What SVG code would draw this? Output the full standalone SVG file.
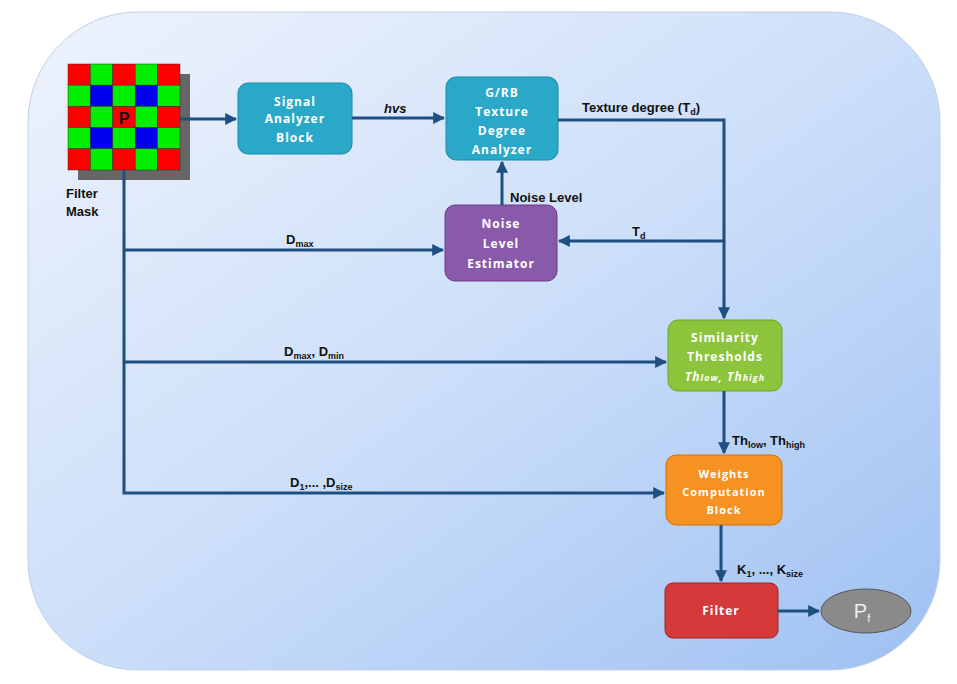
<svg xmlns="http://www.w3.org/2000/svg" width="957" height="684" viewBox="0 0 957 684">
<defs>
<linearGradient id="bg" x1="0" y1="0" x2="1" y2="1"><stop offset="0" stop-color="#eef3fc"/><stop offset="0.5" stop-color="#cddff9"/><stop offset="1" stop-color="#9ec0f2"/></linearGradient>
<marker id="ar" viewBox="0 0 10 10" refX="9" refY="5" markerWidth="4" markerHeight="4" orient="auto"><path d="M0,0L10,5L0,10z" fill="#1f4e80"/></marker>
</defs>
<style>
.c{stroke:#1f4e80;stroke-width:3;fill:none}
.t{font-family:"Liberation Sans",Arial,sans-serif;font-size:13px;font-weight:bold;fill:#111}
.w{font-family:"Open Sans","Liberation Sans",sans-serif;font-size:12px;font-weight:bold;fill:#fff;text-anchor:middle;letter-spacing:1px}
.s{font-size:9px}
</style>
<rect x="28" y="12" width="912" height="658" rx="110" fill="url(#bg)" stroke="#c0d0e8"/>
<g id="mask">
<rect x="78" y="74" width="112" height="106" fill="#666"/>
<g stroke="#333" stroke-width="0.5">
<rect x="68" y="64" width="22.4" height="21.2" fill="#f00"/><rect x="90.4" y="64" width="22.4" height="21.2" fill="#0e0"/><rect x="112.8" y="64" width="22.4" height="21.2" fill="#f00"/><rect x="135.2" y="64" width="22.4" height="21.2" fill="#0e0"/><rect x="157.6" y="64" width="22.4" height="21.2" fill="#f00"/>
<rect x="68" y="85.2" width="22.4" height="21.2" fill="#0e0"/><rect x="90.4" y="85.2" width="22.4" height="21.2" fill="#00e"/><rect x="112.8" y="85.2" width="22.4" height="21.2" fill="#0e0"/><rect x="135.2" y="85.2" width="22.4" height="21.2" fill="#00e"/><rect x="157.6" y="85.2" width="22.4" height="21.2" fill="#0e0"/>
<rect x="68" y="106.4" width="22.4" height="21.2" fill="#f00"/><rect x="90.4" y="106.4" width="22.4" height="21.2" fill="#0e0"/><rect x="112.8" y="106.4" width="22.4" height="21.2" fill="#f00"/><rect x="135.2" y="106.4" width="22.4" height="21.2" fill="#0e0"/><rect x="157.6" y="106.4" width="22.4" height="21.2" fill="#f00"/>
<rect x="68" y="127.6" width="22.4" height="21.2" fill="#0e0"/><rect x="90.4" y="127.6" width="22.4" height="21.2" fill="#00e"/><rect x="112.8" y="127.6" width="22.4" height="21.2" fill="#0e0"/><rect x="135.2" y="127.6" width="22.4" height="21.2" fill="#00e"/><rect x="157.6" y="127.6" width="22.4" height="21.2" fill="#0e0"/>
<rect x="68" y="148.8" width="22.4" height="21.2" fill="#f00"/><rect x="90.4" y="148.8" width="22.4" height="21.2" fill="#0e0"/><rect x="112.8" y="148.8" width="22.4" height="21.2" fill="#f00"/><rect x="135.2" y="148.8" width="22.4" height="21.2" fill="#0e0"/><rect x="157.6" y="148.8" width="22.4" height="21.2" fill="#f00"/>
</g>
<text x="124" y="124" class="t" font-size="16" text-anchor="middle" style="font-size:16px">P</text>
<text x="66" y="198" class="t">Filter</text><text x="66" y="216" class="t">Mask</text>
</g>
<g id="signal"><rect x="238" y="83" width="114" height="71" rx="10" fill="#2aa8c8" stroke="#1a8aa8"/>
<text class="w" x="295" y="106">Signal</text><text class="w" x="295" y="123">Analyzer</text><text class="w" x="295" y="142">Block</text></g>
<g id="grb"><rect x="446" y="77" width="112" height="83" rx="10" fill="#2aa8c8" stroke="#1a8aa8"/>
<text class="w" x="502" y="97">G/RB</text><text class="w" x="502" y="116">Texture</text><text class="w" x="502" y="135">Degree</text><text class="w" x="502" y="154">Analyzer</text></g>
<g id="noise"><rect x="445" y="205" width="112" height="76" rx="10" fill="#8a5aaa" stroke="#6a3a8a"/>
<text class="w" x="501" y="228">Noise</text><text class="w" x="501" y="248">Level</text><text class="w" x="501" y="268">Estimator</text></g>
<g id="similarity"><rect x="668" y="320" width="114" height="71" rx="10" fill="#8cc43c" stroke="#6aa42a"/>
<text class="w" x="725" y="342">Similarity</text><text class="w" x="725" y="361">Thresholds</text><text class="w" x="725" y="381" font-style="italic">Th<tspan class="s">low</tspan>, Th<tspan class="s">high</tspan></text></g>
<g id="weights"><rect x="666" y="455" width="116" height="70" rx="10" fill="#f59222" stroke="#d57202"/>
<text class="w" x="724" y="478" style="font-size:11px">Weights</text><text class="w" x="724" y="496" style="font-size:11px">Computation</text><text class="w" x="724" y="514" style="font-size:11px">Block</text></g>
<g id="filter"><rect x="665" y="583" width="113" height="55" rx="8" fill="#d43a3a" stroke="#a42020"/>
<text class="w" x="721" y="615">Filter</text></g>
<g id="pf"><ellipse cx="866" cy="611" rx="45" ry="22" fill="#8a8a8a" stroke="#555"/>
<text x="862" y="618" font-family="Liberation Sans,sans-serif" font-size="20" fill="#eee" text-anchor="middle">P<tspan font-size="11" dy="4">f</tspan></text></g>
<g id="connectors">
<path class="c" d="M180,119H236" marker-end="url(#ar)"/>
<path class="c" d="M352,118H444" marker-end="url(#ar)"/>
<path class="c" d="M558,120H724V318" marker-end="url(#ar)"/>
<path class="c" d="M724,241H559" marker-end="url(#ar)"/>
<path class="c" d="M502,205V162" marker-end="url(#ar)"/>
<path class="c" d="M124,170V493H664" marker-end="url(#ar)"/>
<path class="c" d="M124,250H443" marker-end="url(#ar)"/>
<path class="c" d="M124,362H666" marker-end="url(#ar)"/>
<path class="c" d="M724,391V453" marker-end="url(#ar)"/>
<path class="c" d="M721,525V581" marker-end="url(#ar)"/>
<path class="c" d="M778,611H819" marker-end="url(#ar)"/>
</g>
<g id="labels" class="t">
<text x="384" y="113" font-style="italic">hvs</text>
<text x="582" y="112">Texture degree (T<tspan class="s" dy="3">d</tspan><tspan dy="-3">)</tspan></text>
<text x="510" y="202">Noise Level</text>
<text x="632" y="236">T<tspan class="s" dy="3">d</tspan></text>
<text x="286" y="244">D<tspan class="s" dy="3">max</tspan></text>
<text x="284" y="356">D<tspan class="s" dy="3">max</tspan><tspan dy="-3">, D</tspan><tspan class="s" dy="3">min</tspan></text>
<text x="290" y="487">D<tspan class="s" dy="3">1</tspan><tspan dy="-3">,... ,D</tspan><tspan class="s" dy="3">size</tspan></text>
<text x="732" y="445">Th<tspan class="s" dy="3">low</tspan><tspan dy="-3">, Th</tspan><tspan class="s" dy="3">high</tspan></text>
<text x="737" y="574">K<tspan class="s" dy="3">1</tspan><tspan dy="-3">, ..., K</tspan><tspan class="s" dy="3">size</tspan></text>
</g>
</svg>
